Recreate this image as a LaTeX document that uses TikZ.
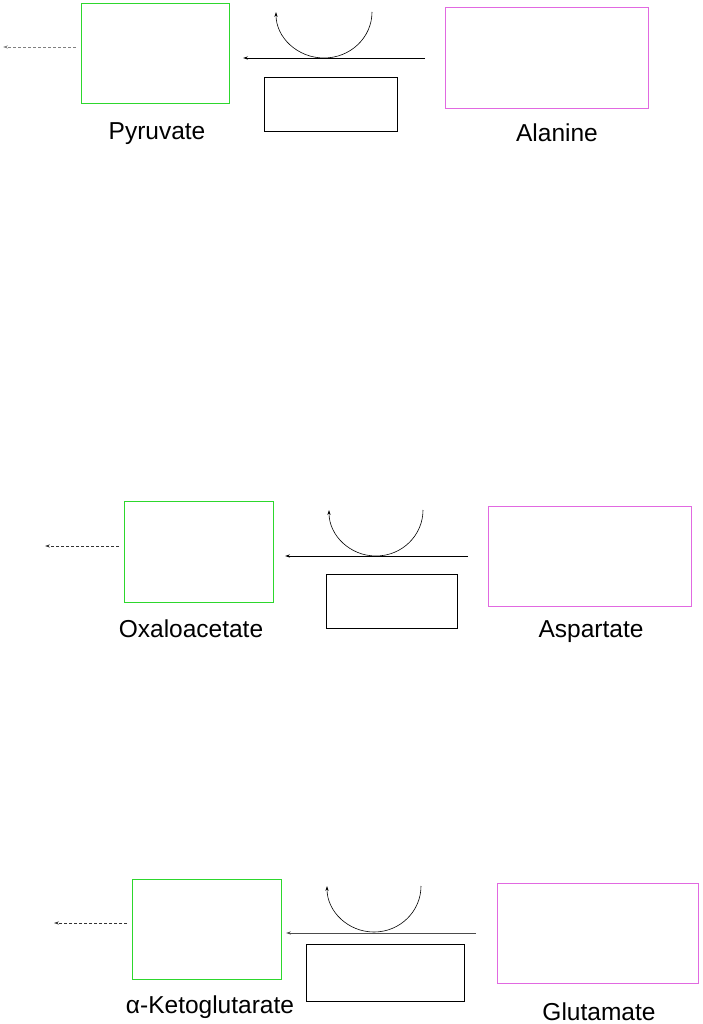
\documentclass[tikz,border=0pt]{standalone}
\usepackage{fontspec}
\setmainfont{Liberation Sans}
\usetikzlibrary{arrows.meta}
\definecolor{boxgreen}{RGB}{45,215,45}
\definecolor{boxmag}{RGB}{225,105,225}
\tikzset{
  box/.style={draw, line width=0.9pt, inner sep=0pt, anchor=north west},
  lefthbox/.style={box, draw=boxgreen},
  righthbox/.style={box, draw=boxmag},
  midbox/.style={box, draw=black},
  lbl/.style={anchor=base, inner sep=0pt, font=\fontsize{24.5}{28}\selectfont},
  tip/.style={-{Stealth[length=5pt,width=3.2pt]}},
  mainarrow/.style={tip, line width=0.8pt},
  outarrow/.style={tip, dashed, dash pattern=on 3pt off 2pt, line width=0.7pt},
  cyc/.style={tip, line width=0.6pt},
}
\begin{document}
\begin{tikzpicture}[x=1pt,y=-1pt]
\useasboundingbox (0,0) rectangle (703,1024);
% ---------- row 1 ----------
\node[lefthbox, minimum width=148pt, minimum height=100pt] (pyr) at (81,3) {};
\node[righthbox, minimum width=203pt, minimum height=101pt] (ala) at (445,7) {};
\node[midbox, minimum width=133pt, minimum height=54pt] (enz1) at (264,77) {};
\node[lbl] (pyrl) at (157,139.5) {Pyruvate};
\node[lbl] (alal) at (557,141.5) {Alanine};
\coordinate (a1s) at (425,58);
\coordinate (a1e) at (243,58);
\draw[mainarrow] (a1s) -- (a1e);
\coordinate (o1s) at (76,47);
\coordinate (o1e) at (3,47);
\draw[outarrow, draw=gray] (o1s) -- (o1e);
\coordinate (c1r) at (372,12);
\coordinate (c1l) at (276,12);
\draw[cyc] (c1r) arc[start angle=0, end angle=180, x radius=48, y radius=46];
% ---------- row 2 ----------
\node[lefthbox, minimum width=149pt, minimum height=101pt] (oaa) at (124,501) {};
\node[righthbox, minimum width=203pt, minimum height=100pt] (asp) at (488,506) {};
\node[midbox, minimum width=131pt, minimum height=54pt] (enz2) at (326,574) {};
\node[lbl] (oaal) at (191,637) {Oxaloacetate};
\node[lbl] (aspl) at (591,637) {Aspartate};
\coordinate (a2s) at (468,556);
\coordinate (a2e) at (285,556);
\draw[mainarrow] (a2s) -- (a2e);
\coordinate (o2s) at (119,546);
\coordinate (o2e) at (45,546);
\draw[outarrow, draw=black!80] (o2s) -- (o2e);
\coordinate (c2r) at (423,510);
\coordinate (c2l) at (329,510);
\draw[cyc] (c2r) arc[start angle=0, end angle=180, x radius=47, y radius=46];
% ---------- row 3 ----------
\node[lefthbox, minimum width=149pt, minimum height=100pt] (akg) at (132,879) {};
\node[righthbox, minimum width=201pt, minimum height=100pt] (glu) at (497,883) {};
\node[midbox, minimum width=158pt, minimum height=57pt] (enz3) at (306,944) {};
\node[lbl] (akgl) at (210,1013) {α-Ketoglutarate};
\node[lbl] (glul) at (599,1020) {Glutamate};
\coordinate (a3s) at (476,933);
\coordinate (a3e) at (286,933);
\draw[mainarrow, draw=black!70] (a3s) -- (a3e);
\coordinate (o3s) at (127,923);
\coordinate (o3e) at (54,923);
\draw[outarrow, draw=black!80] (o3s) -- (o3e);
\coordinate (c3r) at (421,886);
\coordinate (c3l) at (327,886);
\draw[cyc] (c3r) arc[start angle=0, end angle=180, x radius=47, y radius=46];
\end{tikzpicture}
\end{document}
